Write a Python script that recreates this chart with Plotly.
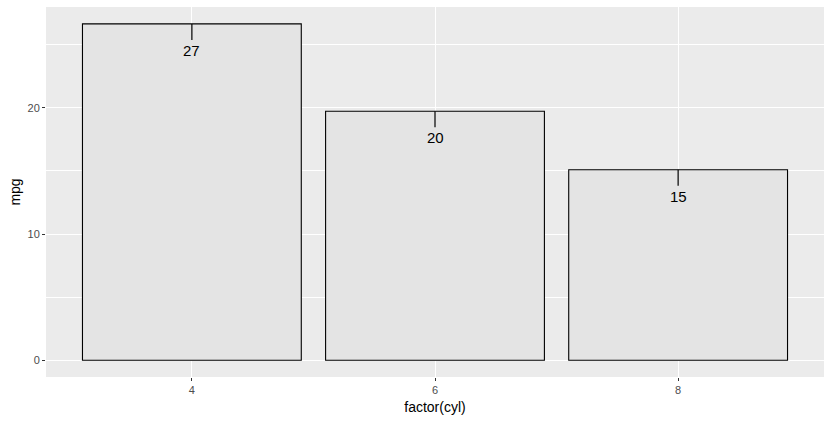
import plotly.graph_objects as go

cyl = ["4", "6", "8"]
mean_mpg = [26.66, 19.74, 15.10]
labels = ["27", "20", "15"]

fig = go.Figure()
fig.add_trace(go.Bar(
    x=cyl, y=mean_mpg, width=0.9,
    marker=dict(color="rgb(228,228,228)", line=dict(color="black", width=1.1)),
    hoverinfo="skip", showlegend=False,
))

for i, (m, t) in enumerate(zip(mean_mpg, labels)):
    fig.add_shape(type="line", xref="x", yref="y", x0=i, x1=i, y0=m, y1=m - 1.28,
                  line=dict(color="black", width=1.2))
    fig.add_annotation(x=i, y=m, xref="x", yref="y", text=t, showarrow=False, yshift=-26.5,
                       font=dict(family="Liberation Sans, Arial", size=15, color="black"))

fig.update_layout(
    width=832, height=422,
    margin=dict(l=46, r=8, t=7, b=45),
    paper_bgcolor="white", plot_bgcolor="#EBEBEB",
    font=dict(family="Liberation Sans, Arial", color="#4D4D4D", size=11),
    bargap=0.1,
)
fig.update_xaxes(
    type="category", range=[-0.6, 2.6],
    showgrid=True, gridcolor="white", gridwidth=1.1,
    ticks="outside", ticklen=3, tickcolor="#333333", tickwidth=1,
    tickfont=dict(size=11, color="#4D4D4D"),
    title=dict(text="factor(cyl)", font=dict(size=14, color="black"), standoff=6),
    zeroline=False, showline=False, fixedrange=True,
)
fig.update_yaxes(
    range=[-1.333, 28.0], tickvals=[0, 10, 20],
    showgrid=True, gridcolor="white", gridwidth=1.1,
    minor=dict(tickvals=[5, 15, 25], showgrid=True, gridcolor="white", gridwidth=0.55),
    ticks="outside", ticklen=3, tickcolor="#333333", tickwidth=1,
    tickfont=dict(size=11, color="#4D4D4D"),
    title=dict(text="mpg", font=dict(size=14, color="black"), standoff=3),
    zeroline=False, showline=False, fixedrange=True,
)

fig.write_html("out.html", config={"displayModeBar": False},
               post_script="document.body.style.margin='0';")
